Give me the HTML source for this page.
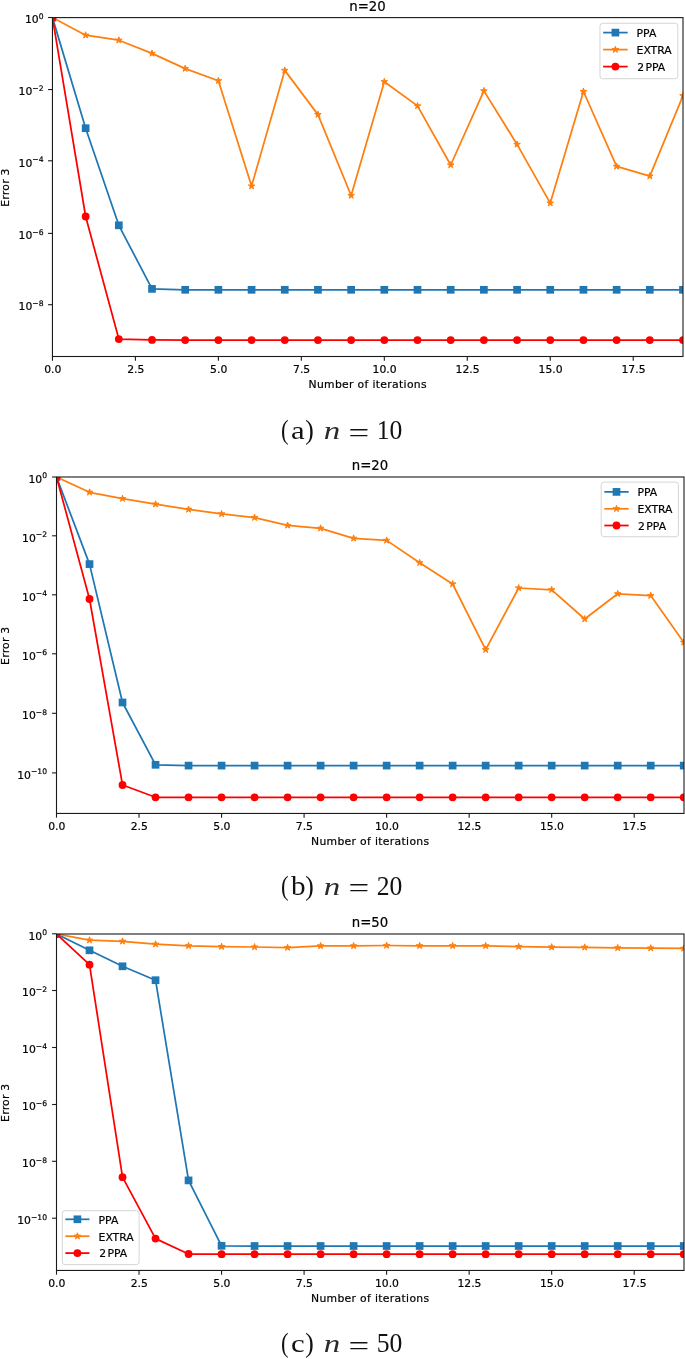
<!DOCTYPE html>
<html lang="en">
<head>
<meta charset="utf-8">
<title>Error 3 versus number of iterations</title>
<style>
html,body{margin:0;padding:0;background:#ffffff;}
body{width:685px;height:1359px;overflow:hidden;}
svg{display:block;}
</style>
</head>
<body>
<svg width="685" height="1359" viewBox="0 0 685 1359" font-family="'DejaVu Sans', 'Liberation Sans', sans-serif" fill="#000">
<style>text{stroke:#000;stroke-width:0.2px;paint-order:stroke fill;} .cap text{stroke:none;}</style>
<rect width="685" height="1359" fill="#ffffff"/>
<g id="chart1">
<clipPath id="clip1"><rect x="52.45" y="17.6" width="630.55" height="338.9"/></clipPath>
<g clip-path="url(#clip1)">
<polyline points="52.45,17.6 85.64,128.2 118.82,225.3 152.01,288.9 185.2,289.8 218.38,289.8 251.57,289.8 284.76,289.8 317.94,289.8 351.13,289.8 384.32,289.8 417.51,289.8 450.69,289.8 483.88,289.8 517.07,289.8 550.25,289.8 583.44,289.8 616.63,289.8 649.81,289.8 683,289.8" fill="none" stroke="#1f77b4" stroke-width="1.75" stroke-linejoin="round" stroke-linecap="square"/>
<rect x="48.6" y="13.75" width="7.7" height="7.7" fill="#1f77b4"/><rect x="81.79" y="124.35" width="7.7" height="7.7" fill="#1f77b4"/><rect x="114.97" y="221.45" width="7.7" height="7.7" fill="#1f77b4"/><rect x="148.16" y="285.05" width="7.7" height="7.7" fill="#1f77b4"/><rect x="181.35" y="285.95" width="7.7" height="7.7" fill="#1f77b4"/><rect x="214.53" y="285.95" width="7.7" height="7.7" fill="#1f77b4"/><rect x="247.72" y="285.95" width="7.7" height="7.7" fill="#1f77b4"/><rect x="280.91" y="285.95" width="7.7" height="7.7" fill="#1f77b4"/><rect x="314.09" y="285.95" width="7.7" height="7.7" fill="#1f77b4"/><rect x="347.28" y="285.95" width="7.7" height="7.7" fill="#1f77b4"/><rect x="380.47" y="285.95" width="7.7" height="7.7" fill="#1f77b4"/><rect x="413.66" y="285.95" width="7.7" height="7.7" fill="#1f77b4"/><rect x="446.84" y="285.95" width="7.7" height="7.7" fill="#1f77b4"/><rect x="480.03" y="285.95" width="7.7" height="7.7" fill="#1f77b4"/><rect x="513.22" y="285.95" width="7.7" height="7.7" fill="#1f77b4"/><rect x="546.4" y="285.95" width="7.7" height="7.7" fill="#1f77b4"/><rect x="579.59" y="285.95" width="7.7" height="7.7" fill="#1f77b4"/><rect x="612.78" y="285.95" width="7.7" height="7.7" fill="#1f77b4"/><rect x="645.96" y="285.95" width="7.7" height="7.7" fill="#1f77b4"/><rect x="679.15" y="285.95" width="7.7" height="7.7" fill="#1f77b4"/>
<polyline points="52.45,17.6 85.64,35.2 118.82,40.2 152.01,53.4 185.2,68.6 218.38,80.7 251.57,186.1 284.76,70.4 317.94,114.6 351.13,195.5 384.32,81.7 417.51,105.9 450.69,165 483.88,90.9 517.07,144.4 550.25,203.1 583.44,91.5 616.63,166.4 649.81,176.1 683,95.7" fill="none" stroke="#ff7f0e" stroke-width="1.75" stroke-linejoin="round" stroke-linecap="square"/>
<polygon points="52.45,14.15 53.22,16.53 55.73,16.53 53.7,18.01 54.48,20.39 52.45,18.92 50.42,20.39 51.2,18.01 49.17,16.53 51.68,16.53" fill="#ff7f0e" stroke="#ff7f0e" stroke-width="1" stroke-linejoin="miter"/><polygon points="85.64,31.75 86.41,34.13 88.92,34.13 86.89,35.61 87.66,37.99 85.64,36.52 83.61,37.99 84.38,35.61 82.36,34.13 84.86,34.13" fill="#ff7f0e" stroke="#ff7f0e" stroke-width="1" stroke-linejoin="miter"/><polygon points="118.82,36.75 119.6,39.13 122.1,39.13 120.08,40.61 120.85,42.99 118.82,41.52 116.8,42.99 117.57,40.61 115.54,39.13 118.05,39.13" fill="#ff7f0e" stroke="#ff7f0e" stroke-width="1" stroke-linejoin="miter"/><polygon points="152.01,49.95 152.79,52.33 155.29,52.33 153.26,53.81 154.04,56.19 152.01,54.72 149.98,56.19 150.76,53.81 148.73,52.33 151.24,52.33" fill="#ff7f0e" stroke="#ff7f0e" stroke-width="1" stroke-linejoin="miter"/><polygon points="185.2,65.15 185.97,67.53 188.48,67.53 186.45,69.01 187.23,71.39 185.2,69.92 183.17,71.39 183.94,69.01 181.92,67.53 184.42,67.53" fill="#ff7f0e" stroke="#ff7f0e" stroke-width="1" stroke-linejoin="miter"/><polygon points="218.38,77.25 219.16,79.63 221.67,79.63 219.64,81.11 220.41,83.49 218.38,82.02 216.36,83.49 217.13,81.11 215.1,79.63 217.61,79.63" fill="#ff7f0e" stroke="#ff7f0e" stroke-width="1" stroke-linejoin="miter"/><polygon points="251.57,182.65 252.35,185.03 254.85,185.03 252.82,186.51 253.6,188.89 251.57,187.42 249.54,188.89 250.32,186.51 248.29,185.03 250.8,185.03" fill="#ff7f0e" stroke="#ff7f0e" stroke-width="1" stroke-linejoin="miter"/><polygon points="284.76,66.95 285.53,69.33 288.04,69.33 286.01,70.81 286.79,73.19 284.76,71.72 282.73,73.19 283.5,70.81 281.48,69.33 283.98,69.33" fill="#ff7f0e" stroke="#ff7f0e" stroke-width="1" stroke-linejoin="miter"/><polygon points="317.94,111.15 318.72,113.53 321.23,113.53 319.2,115.01 319.97,117.39 317.94,115.92 315.92,117.39 316.69,115.01 314.66,113.53 317.17,113.53" fill="#ff7f0e" stroke="#ff7f0e" stroke-width="1" stroke-linejoin="miter"/><polygon points="351.13,192.05 351.91,194.43 354.41,194.43 352.38,195.91 353.16,198.29 351.13,196.82 349.1,198.29 349.88,195.91 347.85,194.43 350.36,194.43" fill="#ff7f0e" stroke="#ff7f0e" stroke-width="1" stroke-linejoin="miter"/><polygon points="384.32,78.25 385.09,80.63 387.6,80.63 385.57,82.11 386.35,84.49 384.32,83.02 382.29,84.49 383.07,82.11 381.04,80.63 383.54,80.63" fill="#ff7f0e" stroke="#ff7f0e" stroke-width="1" stroke-linejoin="miter"/><polygon points="417.51,102.45 418.28,104.83 420.79,104.83 418.76,106.31 419.53,108.69 417.51,107.22 415.48,108.69 416.25,106.31 414.22,104.83 416.73,104.83" fill="#ff7f0e" stroke="#ff7f0e" stroke-width="1" stroke-linejoin="miter"/><polygon points="450.69,161.55 451.47,163.93 453.97,163.93 451.95,165.41 452.72,167.79 450.69,166.32 448.66,167.79 449.44,165.41 447.41,163.93 449.92,163.93" fill="#ff7f0e" stroke="#ff7f0e" stroke-width="1" stroke-linejoin="miter"/><polygon points="483.88,87.45 484.65,89.83 487.16,89.83 485.13,91.31 485.91,93.69 483.88,92.22 481.85,93.69 482.63,91.31 480.6,89.83 483.1,89.83" fill="#ff7f0e" stroke="#ff7f0e" stroke-width="1" stroke-linejoin="miter"/><polygon points="517.07,140.95 517.84,143.33 520.35,143.33 518.32,144.81 519.09,147.19 517.07,145.72 515.04,147.19 515.81,144.81 513.78,143.33 516.29,143.33" fill="#ff7f0e" stroke="#ff7f0e" stroke-width="1" stroke-linejoin="miter"/><polygon points="550.25,199.65 551.03,202.03 553.53,202.03 551.51,203.51 552.28,205.89 550.25,204.42 548.22,205.89 549,203.51 546.97,202.03 549.48,202.03" fill="#ff7f0e" stroke="#ff7f0e" stroke-width="1" stroke-linejoin="miter"/><polygon points="583.44,88.05 584.21,90.43 586.72,90.43 584.69,91.91 585.47,94.29 583.44,92.82 581.41,94.29 582.19,91.91 580.16,90.43 582.66,90.43" fill="#ff7f0e" stroke="#ff7f0e" stroke-width="1" stroke-linejoin="miter"/><polygon points="616.63,162.95 617.4,165.33 619.91,165.33 617.88,166.81 618.65,169.19 616.63,167.72 614.6,169.19 615.37,166.81 613.35,165.33 615.85,165.33" fill="#ff7f0e" stroke="#ff7f0e" stroke-width="1" stroke-linejoin="miter"/><polygon points="649.81,172.65 650.59,175.03 653.09,175.03 651.07,176.51 651.84,178.89 649.81,177.42 647.79,178.89 648.56,176.51 646.53,175.03 649.04,175.03" fill="#ff7f0e" stroke="#ff7f0e" stroke-width="1" stroke-linejoin="miter"/><polygon points="683,92.25 683.77,94.63 686.28,94.63 684.25,96.11 685.03,98.49 683,97.02 680.97,98.49 681.75,96.11 679.72,94.63 682.23,94.63" fill="#ff7f0e" stroke="#ff7f0e" stroke-width="1" stroke-linejoin="miter"/>
<polyline points="52.45,17.6 85.64,216.5 118.82,339.1 152.01,339.9 185.2,340.1 218.38,340.1 251.57,340.1 284.76,340.1 317.94,340.1 351.13,340.1 384.32,340.1 417.51,340.1 450.69,340.1 483.88,340.1 517.07,340.1 550.25,340.1 583.44,340.1 616.63,340.1 649.81,340.1 683,340.1" fill="none" stroke="#ff0000" stroke-width="1.75" stroke-linejoin="round" stroke-linecap="square"/>
<circle cx="52.45" cy="17.6" r="3.9" fill="#ff0000"/><circle cx="85.64" cy="216.5" r="3.9" fill="#ff0000"/><circle cx="118.82" cy="339.1" r="3.9" fill="#ff0000"/><circle cx="152.01" cy="339.9" r="3.9" fill="#ff0000"/><circle cx="185.2" cy="340.1" r="3.9" fill="#ff0000"/><circle cx="218.38" cy="340.1" r="3.9" fill="#ff0000"/><circle cx="251.57" cy="340.1" r="3.9" fill="#ff0000"/><circle cx="284.76" cy="340.1" r="3.9" fill="#ff0000"/><circle cx="317.94" cy="340.1" r="3.9" fill="#ff0000"/><circle cx="351.13" cy="340.1" r="3.9" fill="#ff0000"/><circle cx="384.32" cy="340.1" r="3.9" fill="#ff0000"/><circle cx="417.51" cy="340.1" r="3.9" fill="#ff0000"/><circle cx="450.69" cy="340.1" r="3.9" fill="#ff0000"/><circle cx="483.88" cy="340.1" r="3.9" fill="#ff0000"/><circle cx="517.07" cy="340.1" r="3.9" fill="#ff0000"/><circle cx="550.25" cy="340.1" r="3.9" fill="#ff0000"/><circle cx="583.44" cy="340.1" r="3.9" fill="#ff0000"/><circle cx="616.63" cy="340.1" r="3.9" fill="#ff0000"/><circle cx="649.81" cy="340.1" r="3.9" fill="#ff0000"/><circle cx="683" cy="340.1" r="3.9" fill="#ff0000"/>
</g>
<rect x="52.45" y="17.6" width="630.55" height="338.9" fill="none" stroke="#1a1a1a" stroke-width="1.1"/>
<g stroke="#1a1a1a" stroke-width="1.1"><line x1="52.45" y1="356.5" x2="52.45" y2="360.7"/><line x1="135.42" y1="356.5" x2="135.42" y2="360.7"/><line x1="218.38" y1="356.5" x2="218.38" y2="360.7"/><line x1="301.35" y1="356.5" x2="301.35" y2="360.7"/><line x1="384.32" y1="356.5" x2="384.32" y2="360.7"/><line x1="467.29" y1="356.5" x2="467.29" y2="360.7"/><line x1="550.25" y1="356.5" x2="550.25" y2="360.7"/><line x1="633.22" y1="356.5" x2="633.22" y2="360.7"/></g>
<g font-size="10.8" text-anchor="middle"><text x="52.75" y="373.2">0.0</text><text x="135.72" y="373.2">2.5</text><text x="218.68" y="373.2">5.0</text><text x="301.65" y="373.2">7.5</text><text x="384.62" y="373.2">10.0</text><text x="467.59" y="373.2">12.5</text><text x="550.55" y="373.2">15.0</text><text x="633.52" y="373.2">17.5</text></g>
<g stroke="#1a1a1a" stroke-width="1.1"><line x1="48.05" y1="17.5" x2="52.45" y2="17.5"/><line x1="48.05" y1="89.55" x2="52.45" y2="89.55"/><line x1="48.05" y1="160.8" x2="52.45" y2="160.8"/><line x1="48.05" y1="233.4" x2="52.45" y2="233.4"/><line x1="48.05" y1="304.7" x2="52.45" y2="304.7"/></g>
<g font-size="10.8"><text x="43.55" y="23.2" text-anchor="end">10<tspan font-size="7.6" dy="-4.3">0</tspan></text><text x="43.55" y="95.25" text-anchor="end">10<tspan font-size="7.6" dy="-4.3">−2</tspan></text><text x="43.55" y="166.5" text-anchor="end">10<tspan font-size="7.6" dy="-4.3">−4</tspan></text><text x="43.55" y="239.1" text-anchor="end">10<tspan font-size="7.6" dy="-4.3">−6</tspan></text><text x="43.55" y="310.4" text-anchor="end">10<tspan font-size="7.6" dy="-4.3">−8</tspan></text></g>
<text x="367.73" y="388.2" font-size="10.8" text-anchor="middle" letter-spacing="0.33">Number of iterations</text>
<text transform="translate(9,187.55) rotate(-90)" font-size="10.8" text-anchor="middle" letter-spacing="0.25">Error 3</text>
<text x="367.53" y="10.7" font-size="13.3" text-anchor="middle">n=20</text>
<rect x="600" y="23.3" width="77.8" height="55.4" rx="2.6" ry="2.6" fill="#ffffff" fill-opacity="0.8" stroke="#cccccc" stroke-opacity="0.8" stroke-width="1"/>
<line x1="604" y1="32.6" x2="626.8" y2="32.6" stroke="#1f77b4" stroke-width="1.75" stroke-linecap="square"/>
<rect x="611.55" y="28.75" width="7.7" height="7.7" fill="#1f77b4"/>
<text x="636.6" y="36.9" font-size="10.8">PPA</text>
<line x1="604" y1="49.6" x2="626.8" y2="49.6" stroke="#ff7f0e" stroke-width="1.75" stroke-linecap="square"/>
<polygon points="615.4,46.15 616.17,48.53 618.68,48.53 616.65,50.01 617.43,52.39 615.4,50.92 613.37,52.39 614.15,50.01 612.12,48.53 614.63,48.53" fill="#ff7f0e" stroke="#ff7f0e" stroke-width="1" stroke-linejoin="miter"/>
<text x="636.6" y="53.9" font-size="10.8">EXTRA</text>
<line x1="604" y1="66.6" x2="626.8" y2="66.6" stroke="#ff0000" stroke-width="1.75" stroke-linecap="square"/>
<circle cx="615.4" cy="66.6" r="3.9" fill="#ff0000"/>
<text x="637.3" y="70.9" font-size="10.8" word-spacing="-2.1">2 PPA</text>
<g class="cap" font-family="'Liberation Serif', 'DejaVu Serif', serif" font-size="27" fill="#111">
<text transform="translate(281,439.2) scale(0.84,1.05)">(</text>
<text transform="translate(291,439.2) scale(1.14,0.92)">a</text>
<text transform="translate(305.3,439.2) scale(0.95,1.05)">)</text>
<text transform="translate(323.8,439.2) scale(1.22,0.9)" font-style="italic" fill="#2a2a2a">n</text>
<text transform="translate(348.4,441.6) scale(1.36,1.0)">=</text>
<text transform="translate(376.8,439.2) scale(0.95,1.0)">10</text>
</g>
</g>
<g id="chart2">
<clipPath id="clip2"><rect x="56.5" y="477" width="627.5" height="336.45"/></clipPath>
<g clip-path="url(#clip2)">
<polyline points="56.5,477 89.51,564.1 122.52,702.5 155.54,764.8 188.55,765.6 221.56,765.6 254.57,765.6 287.58,765.6 320.6,765.6 353.61,765.6 386.62,765.6 419.63,765.6 452.64,765.6 485.66,765.6 518.67,765.6 551.68,765.6 584.69,765.6 617.7,765.6 650.72,765.6 683.73,765.6" fill="none" stroke="#1f77b4" stroke-width="1.75" stroke-linejoin="round" stroke-linecap="square"/>
<rect x="52.65" y="473.15" width="7.7" height="7.7" fill="#1f77b4"/><rect x="85.66" y="560.25" width="7.7" height="7.7" fill="#1f77b4"/><rect x="118.67" y="698.65" width="7.7" height="7.7" fill="#1f77b4"/><rect x="151.69" y="760.95" width="7.7" height="7.7" fill="#1f77b4"/><rect x="184.7" y="761.75" width="7.7" height="7.7" fill="#1f77b4"/><rect x="217.71" y="761.75" width="7.7" height="7.7" fill="#1f77b4"/><rect x="250.72" y="761.75" width="7.7" height="7.7" fill="#1f77b4"/><rect x="283.73" y="761.75" width="7.7" height="7.7" fill="#1f77b4"/><rect x="316.75" y="761.75" width="7.7" height="7.7" fill="#1f77b4"/><rect x="349.76" y="761.75" width="7.7" height="7.7" fill="#1f77b4"/><rect x="382.77" y="761.75" width="7.7" height="7.7" fill="#1f77b4"/><rect x="415.78" y="761.75" width="7.7" height="7.7" fill="#1f77b4"/><rect x="448.79" y="761.75" width="7.7" height="7.7" fill="#1f77b4"/><rect x="481.81" y="761.75" width="7.7" height="7.7" fill="#1f77b4"/><rect x="514.82" y="761.75" width="7.7" height="7.7" fill="#1f77b4"/><rect x="547.83" y="761.75" width="7.7" height="7.7" fill="#1f77b4"/><rect x="580.84" y="761.75" width="7.7" height="7.7" fill="#1f77b4"/><rect x="613.85" y="761.75" width="7.7" height="7.7" fill="#1f77b4"/><rect x="646.87" y="761.75" width="7.7" height="7.7" fill="#1f77b4"/><rect x="679.88" y="761.75" width="7.7" height="7.7" fill="#1f77b4"/>
<polyline points="56.5,477 89.51,492.3 122.52,498.6 155.54,504.2 188.55,509.4 221.56,513.9 254.57,517.6 287.58,525.4 320.6,528.3 353.61,538.3 386.62,540.4 419.63,562.8 452.64,584 485.66,649.7 518.67,588 551.68,589.8 584.69,619 617.7,593.8 650.72,595.6 683.73,642.4" fill="none" stroke="#ff7f0e" stroke-width="1.75" stroke-linejoin="round" stroke-linecap="square"/>
<polygon points="56.5,473.55 57.27,475.93 59.78,475.93 57.75,477.41 58.53,479.79 56.5,478.32 54.47,479.79 55.25,477.41 53.22,475.93 55.73,475.93" fill="#ff7f0e" stroke="#ff7f0e" stroke-width="1" stroke-linejoin="miter"/><polygon points="89.51,488.85 90.29,491.23 92.79,491.23 90.77,492.71 91.54,495.09 89.51,493.62 87.48,495.09 88.26,492.71 86.23,491.23 88.74,491.23" fill="#ff7f0e" stroke="#ff7f0e" stroke-width="1" stroke-linejoin="miter"/><polygon points="122.52,495.15 123.3,497.53 125.81,497.53 123.78,499.01 124.55,501.39 122.52,499.92 120.5,501.39 121.27,499.01 119.24,497.53 121.75,497.53" fill="#ff7f0e" stroke="#ff7f0e" stroke-width="1" stroke-linejoin="miter"/><polygon points="155.54,500.75 156.31,503.13 158.82,503.13 156.79,504.61 157.56,506.99 155.54,505.52 153.51,506.99 154.28,504.61 152.25,503.13 154.76,503.13" fill="#ff7f0e" stroke="#ff7f0e" stroke-width="1" stroke-linejoin="miter"/><polygon points="188.55,505.95 189.32,508.33 191.83,508.33 189.8,509.81 190.58,512.19 188.55,510.72 186.52,512.19 187.29,509.81 185.27,508.33 187.77,508.33" fill="#ff7f0e" stroke="#ff7f0e" stroke-width="1" stroke-linejoin="miter"/><polygon points="221.56,510.45 222.33,512.83 224.84,512.83 222.81,514.31 223.59,516.69 221.56,515.22 219.53,516.69 220.31,514.31 218.28,512.83 220.79,512.83" fill="#ff7f0e" stroke="#ff7f0e" stroke-width="1" stroke-linejoin="miter"/><polygon points="254.57,514.15 255.35,516.53 257.85,516.53 255.83,518.01 256.6,520.39 254.57,518.92 252.54,520.39 253.32,518.01 251.29,516.53 253.8,516.53" fill="#ff7f0e" stroke="#ff7f0e" stroke-width="1" stroke-linejoin="miter"/><polygon points="287.58,521.95 288.36,524.33 290.87,524.33 288.84,525.81 289.61,528.19 287.58,526.72 285.56,528.19 286.33,525.81 284.3,524.33 286.81,524.33" fill="#ff7f0e" stroke="#ff7f0e" stroke-width="1" stroke-linejoin="miter"/><polygon points="320.6,524.85 321.37,527.23 323.88,527.23 321.85,528.71 322.62,531.09 320.6,529.62 318.57,531.09 319.34,528.71 317.31,527.23 319.82,527.23" fill="#ff7f0e" stroke="#ff7f0e" stroke-width="1" stroke-linejoin="miter"/><polygon points="353.61,534.85 354.38,537.23 356.89,537.23 354.86,538.71 355.64,541.09 353.61,539.62 351.58,541.09 352.35,538.71 350.33,537.23 352.83,537.23" fill="#ff7f0e" stroke="#ff7f0e" stroke-width="1" stroke-linejoin="miter"/><polygon points="386.62,536.95 387.39,539.33 389.9,539.33 387.87,540.81 388.65,543.19 386.62,541.72 384.59,543.19 385.37,540.81 383.34,539.33 385.85,539.33" fill="#ff7f0e" stroke="#ff7f0e" stroke-width="1" stroke-linejoin="miter"/><polygon points="419.63,559.35 420.41,561.73 422.91,561.73 420.89,563.21 421.66,565.59 419.63,564.12 417.6,565.59 418.38,563.21 416.35,561.73 418.86,561.73" fill="#ff7f0e" stroke="#ff7f0e" stroke-width="1" stroke-linejoin="miter"/><polygon points="452.64,580.55 453.42,582.93 455.93,582.93 453.9,584.41 454.67,586.79 452.64,585.32 450.62,586.79 451.39,584.41 449.36,582.93 451.87,582.93" fill="#ff7f0e" stroke="#ff7f0e" stroke-width="1" stroke-linejoin="miter"/><polygon points="485.66,646.25 486.43,648.63 488.94,648.63 486.91,650.11 487.68,652.49 485.66,651.02 483.63,652.49 484.4,650.11 482.37,648.63 484.88,648.63" fill="#ff7f0e" stroke="#ff7f0e" stroke-width="1" stroke-linejoin="miter"/><polygon points="518.67,584.55 519.44,586.93 521.95,586.93 519.92,588.41 520.7,590.79 518.67,589.32 516.64,590.79 517.41,588.41 515.39,586.93 517.89,586.93" fill="#ff7f0e" stroke="#ff7f0e" stroke-width="1" stroke-linejoin="miter"/><polygon points="551.68,586.35 552.45,588.73 554.96,588.73 552.93,590.21 553.71,592.59 551.68,591.12 549.65,592.59 550.43,590.21 548.4,588.73 550.91,588.73" fill="#ff7f0e" stroke="#ff7f0e" stroke-width="1" stroke-linejoin="miter"/><polygon points="584.69,615.55 585.47,617.93 587.97,617.93 585.95,619.41 586.72,621.79 584.69,620.32 582.66,621.79 583.44,619.41 581.41,617.93 583.92,617.93" fill="#ff7f0e" stroke="#ff7f0e" stroke-width="1" stroke-linejoin="miter"/><polygon points="617.7,590.35 618.48,592.73 620.99,592.73 618.96,594.21 619.73,596.59 617.7,595.12 615.68,596.59 616.45,594.21 614.42,592.73 616.93,592.73" fill="#ff7f0e" stroke="#ff7f0e" stroke-width="1" stroke-linejoin="miter"/><polygon points="650.72,592.15 651.49,594.53 654,594.53 651.97,596.01 652.74,598.39 650.72,596.92 648.69,598.39 649.46,596.01 647.43,594.53 649.94,594.53" fill="#ff7f0e" stroke="#ff7f0e" stroke-width="1" stroke-linejoin="miter"/><polygon points="683.73,638.95 684.5,641.33 687.01,641.33 684.98,642.81 685.76,645.19 683.73,643.72 681.7,645.19 682.47,642.81 680.45,641.33 682.95,641.33" fill="#ff7f0e" stroke="#ff7f0e" stroke-width="1" stroke-linejoin="miter"/>
<polyline points="56.5,477 89.51,599 122.52,785 155.54,797.3 188.55,797.3 221.56,797.3 254.57,797.3 287.58,797.3 320.6,797.3 353.61,797.3 386.62,797.3 419.63,797.3 452.64,797.3 485.66,797.3 518.67,797.3 551.68,797.3 584.69,797.3 617.7,797.3 650.72,797.3 683.73,797.3" fill="none" stroke="#ff0000" stroke-width="1.75" stroke-linejoin="round" stroke-linecap="square"/>
<circle cx="56.5" cy="477" r="3.9" fill="#ff0000"/><circle cx="89.51" cy="599" r="3.9" fill="#ff0000"/><circle cx="122.52" cy="785" r="3.9" fill="#ff0000"/><circle cx="155.54" cy="797.3" r="3.9" fill="#ff0000"/><circle cx="188.55" cy="797.3" r="3.9" fill="#ff0000"/><circle cx="221.56" cy="797.3" r="3.9" fill="#ff0000"/><circle cx="254.57" cy="797.3" r="3.9" fill="#ff0000"/><circle cx="287.58" cy="797.3" r="3.9" fill="#ff0000"/><circle cx="320.6" cy="797.3" r="3.9" fill="#ff0000"/><circle cx="353.61" cy="797.3" r="3.9" fill="#ff0000"/><circle cx="386.62" cy="797.3" r="3.9" fill="#ff0000"/><circle cx="419.63" cy="797.3" r="3.9" fill="#ff0000"/><circle cx="452.64" cy="797.3" r="3.9" fill="#ff0000"/><circle cx="485.66" cy="797.3" r="3.9" fill="#ff0000"/><circle cx="518.67" cy="797.3" r="3.9" fill="#ff0000"/><circle cx="551.68" cy="797.3" r="3.9" fill="#ff0000"/><circle cx="584.69" cy="797.3" r="3.9" fill="#ff0000"/><circle cx="617.7" cy="797.3" r="3.9" fill="#ff0000"/><circle cx="650.72" cy="797.3" r="3.9" fill="#ff0000"/><circle cx="683.73" cy="797.3" r="3.9" fill="#ff0000"/>
</g>
<rect x="56.5" y="477" width="627.5" height="336.45" fill="none" stroke="#1a1a1a" stroke-width="1.1"/>
<g stroke="#1a1a1a" stroke-width="1.1"><line x1="56.5" y1="813.45" x2="56.5" y2="817.65"/><line x1="139.03" y1="813.45" x2="139.03" y2="817.65"/><line x1="221.56" y1="813.45" x2="221.56" y2="817.65"/><line x1="304.09" y1="813.45" x2="304.09" y2="817.65"/><line x1="386.62" y1="813.45" x2="386.62" y2="817.65"/><line x1="469.15" y1="813.45" x2="469.15" y2="817.65"/><line x1="551.68" y1="813.45" x2="551.68" y2="817.65"/><line x1="634.21" y1="813.45" x2="634.21" y2="817.65"/></g>
<g font-size="10.8" text-anchor="middle"><text x="56.8" y="830.15">0.0</text><text x="139.33" y="830.15">2.5</text><text x="221.86" y="830.15">5.0</text><text x="304.39" y="830.15">7.5</text><text x="386.92" y="830.15">10.0</text><text x="469.45" y="830.15">12.5</text><text x="551.98" y="830.15">15.0</text><text x="634.51" y="830.15">17.5</text></g>
<g stroke="#1a1a1a" stroke-width="1.1"><line x1="52.1" y1="477" x2="56.5" y2="477"/><line x1="52.1" y1="535.8" x2="56.5" y2="535.8"/><line x1="52.1" y1="594.8" x2="56.5" y2="594.8"/><line x1="52.1" y1="653.8" x2="56.5" y2="653.8"/><line x1="52.1" y1="713.3" x2="56.5" y2="713.3"/><line x1="52.1" y1="772.9" x2="56.5" y2="772.9"/></g>
<g font-size="10.8"><text x="47" y="482.7" text-anchor="end">10<tspan font-size="7.6" dy="-4.3">0</tspan></text><text x="47" y="541.5" text-anchor="end">10<tspan font-size="7.6" dy="-4.3">−2</tspan></text><text x="47" y="600.5" text-anchor="end">10<tspan font-size="7.6" dy="-4.3">−4</tspan></text><text x="47" y="659.5" text-anchor="end">10<tspan font-size="7.6" dy="-4.3">−6</tspan></text><text x="47" y="719" text-anchor="end">10<tspan font-size="7.6" dy="-4.3">−8</tspan></text><text x="47" y="778.6" text-anchor="end">10<tspan font-size="7.6" dy="-4.3">−10</tspan></text></g>
<text x="370.25" y="845.15" font-size="10.8" text-anchor="middle" letter-spacing="0.33">Number of iterations</text>
<text transform="translate(9,645.73) rotate(-90)" font-size="10.8" text-anchor="middle" letter-spacing="0.25">Error 3</text>
<text x="370.05" y="470.1" font-size="13.3" text-anchor="middle">n=20</text>
<rect x="601.2" y="482.1" width="77.2" height="54.6" rx="2.6" ry="2.6" fill="#ffffff" fill-opacity="0.8" stroke="#cccccc" stroke-opacity="0.8" stroke-width="1"/>
<line x1="605.2" y1="491.9" x2="627.8" y2="491.9" stroke="#1f77b4" stroke-width="1.75" stroke-linecap="square"/>
<rect x="612.65" y="488.05" width="7.7" height="7.7" fill="#1f77b4"/>
<text x="637.4" y="496.2" font-size="10.8">PPA</text>
<line x1="605.2" y1="508.8" x2="627.8" y2="508.8" stroke="#ff7f0e" stroke-width="1.75" stroke-linecap="square"/>
<polygon points="616.5,505.35 617.27,507.73 619.78,507.73 617.75,509.21 618.53,511.59 616.5,510.12 614.47,511.59 615.25,509.21 613.22,507.73 615.73,507.73" fill="#ff7f0e" stroke="#ff7f0e" stroke-width="1" stroke-linejoin="miter"/>
<text x="637.4" y="513.1" font-size="10.8">EXTRA</text>
<line x1="605.2" y1="525.5" x2="627.8" y2="525.5" stroke="#ff0000" stroke-width="1.75" stroke-linecap="square"/>
<circle cx="616.5" cy="525.5" r="3.9" fill="#ff0000"/>
<text x="638.1" y="529.8" font-size="10.8" word-spacing="-2.1">2 PPA</text>
<g class="cap" font-family="'Liberation Serif', 'DejaVu Serif', serif" font-size="27" fill="#111">
<text transform="translate(281,894.7) scale(0.84,1.05)">(</text>
<text transform="translate(291,894.7) scale(1.08,1.0)">b</text>
<text transform="translate(305.3,894.7) scale(0.95,1.05)">)</text>
<text transform="translate(323.8,894.7) scale(1.22,0.9)" font-style="italic" fill="#2a2a2a">n</text>
<text transform="translate(348.4,897.1) scale(1.36,1.0)">=</text>
<text transform="translate(376.8,894.7) scale(0.95,1.0)">20</text>
</g>
</g>
<g id="chart3">
<clipPath id="clip3"><rect x="56.5" y="934" width="627.5" height="336.45"/></clipPath>
<g clip-path="url(#clip3)">
<polyline points="56.5,934 89.51,950.3 122.52,966.3 155.54,980.2 188.55,1180.4 221.56,1245.8 254.57,1246 287.58,1246 320.6,1246 353.61,1246 386.62,1246 419.63,1246 452.64,1246 485.66,1246 518.67,1246 551.68,1246 584.69,1246 617.7,1246 650.72,1246 683.73,1246" fill="none" stroke="#1f77b4" stroke-width="1.75" stroke-linejoin="round" stroke-linecap="square"/>
<rect x="52.65" y="930.15" width="7.7" height="7.7" fill="#1f77b4"/><rect x="85.66" y="946.45" width="7.7" height="7.7" fill="#1f77b4"/><rect x="118.67" y="962.45" width="7.7" height="7.7" fill="#1f77b4"/><rect x="151.69" y="976.35" width="7.7" height="7.7" fill="#1f77b4"/><rect x="184.7" y="1176.55" width="7.7" height="7.7" fill="#1f77b4"/><rect x="217.71" y="1241.95" width="7.7" height="7.7" fill="#1f77b4"/><rect x="250.72" y="1242.15" width="7.7" height="7.7" fill="#1f77b4"/><rect x="283.73" y="1242.15" width="7.7" height="7.7" fill="#1f77b4"/><rect x="316.75" y="1242.15" width="7.7" height="7.7" fill="#1f77b4"/><rect x="349.76" y="1242.15" width="7.7" height="7.7" fill="#1f77b4"/><rect x="382.77" y="1242.15" width="7.7" height="7.7" fill="#1f77b4"/><rect x="415.78" y="1242.15" width="7.7" height="7.7" fill="#1f77b4"/><rect x="448.79" y="1242.15" width="7.7" height="7.7" fill="#1f77b4"/><rect x="481.81" y="1242.15" width="7.7" height="7.7" fill="#1f77b4"/><rect x="514.82" y="1242.15" width="7.7" height="7.7" fill="#1f77b4"/><rect x="547.83" y="1242.15" width="7.7" height="7.7" fill="#1f77b4"/><rect x="580.84" y="1242.15" width="7.7" height="7.7" fill="#1f77b4"/><rect x="613.85" y="1242.15" width="7.7" height="7.7" fill="#1f77b4"/><rect x="646.87" y="1242.15" width="7.7" height="7.7" fill="#1f77b4"/><rect x="679.88" y="1242.15" width="7.7" height="7.7" fill="#1f77b4"/>
<polyline points="56.5,934 89.51,940.2 122.52,941.3 155.54,944.2 188.55,945.8 221.56,946.6 254.57,947 287.58,947.6 320.6,945.9 353.61,945.9 386.62,945.5 419.63,945.8 452.64,945.8 485.66,945.8 518.67,946.6 551.68,947.1 584.69,947.3 617.7,947.9 650.72,948.1 683.73,948.4" fill="none" stroke="#ff7f0e" stroke-width="1.75" stroke-linejoin="round" stroke-linecap="square"/>
<polygon points="56.5,930.55 57.27,932.93 59.78,932.93 57.75,934.41 58.53,936.79 56.5,935.32 54.47,936.79 55.25,934.41 53.22,932.93 55.73,932.93" fill="#ff7f0e" stroke="#ff7f0e" stroke-width="1" stroke-linejoin="miter"/><polygon points="89.51,936.75 90.29,939.13 92.79,939.13 90.77,940.61 91.54,942.99 89.51,941.52 87.48,942.99 88.26,940.61 86.23,939.13 88.74,939.13" fill="#ff7f0e" stroke="#ff7f0e" stroke-width="1" stroke-linejoin="miter"/><polygon points="122.52,937.85 123.3,940.23 125.81,940.23 123.78,941.71 124.55,944.09 122.52,942.62 120.5,944.09 121.27,941.71 119.24,940.23 121.75,940.23" fill="#ff7f0e" stroke="#ff7f0e" stroke-width="1" stroke-linejoin="miter"/><polygon points="155.54,940.75 156.31,943.13 158.82,943.13 156.79,944.61 157.56,946.99 155.54,945.52 153.51,946.99 154.28,944.61 152.25,943.13 154.76,943.13" fill="#ff7f0e" stroke="#ff7f0e" stroke-width="1" stroke-linejoin="miter"/><polygon points="188.55,942.35 189.32,944.73 191.83,944.73 189.8,946.21 190.58,948.59 188.55,947.12 186.52,948.59 187.29,946.21 185.27,944.73 187.77,944.73" fill="#ff7f0e" stroke="#ff7f0e" stroke-width="1" stroke-linejoin="miter"/><polygon points="221.56,943.15 222.33,945.53 224.84,945.53 222.81,947.01 223.59,949.39 221.56,947.92 219.53,949.39 220.31,947.01 218.28,945.53 220.79,945.53" fill="#ff7f0e" stroke="#ff7f0e" stroke-width="1" stroke-linejoin="miter"/><polygon points="254.57,943.55 255.35,945.93 257.85,945.93 255.83,947.41 256.6,949.79 254.57,948.32 252.54,949.79 253.32,947.41 251.29,945.93 253.8,945.93" fill="#ff7f0e" stroke="#ff7f0e" stroke-width="1" stroke-linejoin="miter"/><polygon points="287.58,944.15 288.36,946.53 290.87,946.53 288.84,948.01 289.61,950.39 287.58,948.92 285.56,950.39 286.33,948.01 284.3,946.53 286.81,946.53" fill="#ff7f0e" stroke="#ff7f0e" stroke-width="1" stroke-linejoin="miter"/><polygon points="320.6,942.45 321.37,944.83 323.88,944.83 321.85,946.31 322.62,948.69 320.6,947.22 318.57,948.69 319.34,946.31 317.31,944.83 319.82,944.83" fill="#ff7f0e" stroke="#ff7f0e" stroke-width="1" stroke-linejoin="miter"/><polygon points="353.61,942.45 354.38,944.83 356.89,944.83 354.86,946.31 355.64,948.69 353.61,947.22 351.58,948.69 352.35,946.31 350.33,944.83 352.83,944.83" fill="#ff7f0e" stroke="#ff7f0e" stroke-width="1" stroke-linejoin="miter"/><polygon points="386.62,942.05 387.39,944.43 389.9,944.43 387.87,945.91 388.65,948.29 386.62,946.82 384.59,948.29 385.37,945.91 383.34,944.43 385.85,944.43" fill="#ff7f0e" stroke="#ff7f0e" stroke-width="1" stroke-linejoin="miter"/><polygon points="419.63,942.35 420.41,944.73 422.91,944.73 420.89,946.21 421.66,948.59 419.63,947.12 417.6,948.59 418.38,946.21 416.35,944.73 418.86,944.73" fill="#ff7f0e" stroke="#ff7f0e" stroke-width="1" stroke-linejoin="miter"/><polygon points="452.64,942.35 453.42,944.73 455.93,944.73 453.9,946.21 454.67,948.59 452.64,947.12 450.62,948.59 451.39,946.21 449.36,944.73 451.87,944.73" fill="#ff7f0e" stroke="#ff7f0e" stroke-width="1" stroke-linejoin="miter"/><polygon points="485.66,942.35 486.43,944.73 488.94,944.73 486.91,946.21 487.68,948.59 485.66,947.12 483.63,948.59 484.4,946.21 482.37,944.73 484.88,944.73" fill="#ff7f0e" stroke="#ff7f0e" stroke-width="1" stroke-linejoin="miter"/><polygon points="518.67,943.15 519.44,945.53 521.95,945.53 519.92,947.01 520.7,949.39 518.67,947.92 516.64,949.39 517.41,947.01 515.39,945.53 517.89,945.53" fill="#ff7f0e" stroke="#ff7f0e" stroke-width="1" stroke-linejoin="miter"/><polygon points="551.68,943.65 552.45,946.03 554.96,946.03 552.93,947.51 553.71,949.89 551.68,948.42 549.65,949.89 550.43,947.51 548.4,946.03 550.91,946.03" fill="#ff7f0e" stroke="#ff7f0e" stroke-width="1" stroke-linejoin="miter"/><polygon points="584.69,943.85 585.47,946.23 587.97,946.23 585.95,947.71 586.72,950.09 584.69,948.62 582.66,950.09 583.44,947.71 581.41,946.23 583.92,946.23" fill="#ff7f0e" stroke="#ff7f0e" stroke-width="1" stroke-linejoin="miter"/><polygon points="617.7,944.45 618.48,946.83 620.99,946.83 618.96,948.31 619.73,950.69 617.7,949.22 615.68,950.69 616.45,948.31 614.42,946.83 616.93,946.83" fill="#ff7f0e" stroke="#ff7f0e" stroke-width="1" stroke-linejoin="miter"/><polygon points="650.72,944.65 651.49,947.03 654,947.03 651.97,948.51 652.74,950.89 650.72,949.42 648.69,950.89 649.46,948.51 647.43,947.03 649.94,947.03" fill="#ff7f0e" stroke="#ff7f0e" stroke-width="1" stroke-linejoin="miter"/><polygon points="683.73,944.95 684.5,947.33 687.01,947.33 684.98,948.81 685.76,951.19 683.73,949.72 681.7,951.19 682.47,948.81 680.45,947.33 682.95,947.33" fill="#ff7f0e" stroke="#ff7f0e" stroke-width="1" stroke-linejoin="miter"/>
<polyline points="56.5,934 89.51,964.7 122.52,1177.2 155.54,1238.6 188.55,1254 221.56,1254.2 254.57,1254.2 287.58,1254.2 320.6,1254.2 353.61,1254.2 386.62,1254.2 419.63,1254.2 452.64,1254.2 485.66,1254.2 518.67,1254.2 551.68,1254.2 584.69,1254.2 617.7,1254.2 650.72,1254.2 683.73,1254.2" fill="none" stroke="#ff0000" stroke-width="1.75" stroke-linejoin="round" stroke-linecap="square"/>
<circle cx="56.5" cy="934" r="3.9" fill="#ff0000"/><circle cx="89.51" cy="964.7" r="3.9" fill="#ff0000"/><circle cx="122.52" cy="1177.2" r="3.9" fill="#ff0000"/><circle cx="155.54" cy="1238.6" r="3.9" fill="#ff0000"/><circle cx="188.55" cy="1254" r="3.9" fill="#ff0000"/><circle cx="221.56" cy="1254.2" r="3.9" fill="#ff0000"/><circle cx="254.57" cy="1254.2" r="3.9" fill="#ff0000"/><circle cx="287.58" cy="1254.2" r="3.9" fill="#ff0000"/><circle cx="320.6" cy="1254.2" r="3.9" fill="#ff0000"/><circle cx="353.61" cy="1254.2" r="3.9" fill="#ff0000"/><circle cx="386.62" cy="1254.2" r="3.9" fill="#ff0000"/><circle cx="419.63" cy="1254.2" r="3.9" fill="#ff0000"/><circle cx="452.64" cy="1254.2" r="3.9" fill="#ff0000"/><circle cx="485.66" cy="1254.2" r="3.9" fill="#ff0000"/><circle cx="518.67" cy="1254.2" r="3.9" fill="#ff0000"/><circle cx="551.68" cy="1254.2" r="3.9" fill="#ff0000"/><circle cx="584.69" cy="1254.2" r="3.9" fill="#ff0000"/><circle cx="617.7" cy="1254.2" r="3.9" fill="#ff0000"/><circle cx="650.72" cy="1254.2" r="3.9" fill="#ff0000"/><circle cx="683.73" cy="1254.2" r="3.9" fill="#ff0000"/>
</g>
<rect x="56.5" y="934" width="627.5" height="336.45" fill="none" stroke="#1a1a1a" stroke-width="1.1"/>
<g stroke="#1a1a1a" stroke-width="1.1"><line x1="56.5" y1="1270.45" x2="56.5" y2="1274.65"/><line x1="139.03" y1="1270.45" x2="139.03" y2="1274.65"/><line x1="221.56" y1="1270.45" x2="221.56" y2="1274.65"/><line x1="304.09" y1="1270.45" x2="304.09" y2="1274.65"/><line x1="386.62" y1="1270.45" x2="386.62" y2="1274.65"/><line x1="469.15" y1="1270.45" x2="469.15" y2="1274.65"/><line x1="551.68" y1="1270.45" x2="551.68" y2="1274.65"/><line x1="634.21" y1="1270.45" x2="634.21" y2="1274.65"/></g>
<g font-size="10.8" text-anchor="middle"><text x="56.8" y="1287.15">0.0</text><text x="139.33" y="1287.15">2.5</text><text x="221.86" y="1287.15">5.0</text><text x="304.39" y="1287.15">7.5</text><text x="386.92" y="1287.15">10.0</text><text x="469.45" y="1287.15">12.5</text><text x="551.98" y="1287.15">15.0</text><text x="634.51" y="1287.15">17.5</text></g>
<g stroke="#1a1a1a" stroke-width="1.1"><line x1="52.1" y1="933.8" x2="56.5" y2="933.8"/><line x1="52.1" y1="990.5" x2="56.5" y2="990.5"/><line x1="52.1" y1="1047.5" x2="56.5" y2="1047.5"/><line x1="52.1" y1="1104.5" x2="56.5" y2="1104.5"/><line x1="52.1" y1="1161.3" x2="56.5" y2="1161.3"/><line x1="52.1" y1="1218.2" x2="56.5" y2="1218.2"/></g>
<g font-size="10.8"><text x="47" y="939.5" text-anchor="end">10<tspan font-size="7.6" dy="-4.3">0</tspan></text><text x="47" y="996.2" text-anchor="end">10<tspan font-size="7.6" dy="-4.3">−2</tspan></text><text x="47" y="1053.2" text-anchor="end">10<tspan font-size="7.6" dy="-4.3">−4</tspan></text><text x="47" y="1110.2" text-anchor="end">10<tspan font-size="7.6" dy="-4.3">−6</tspan></text><text x="47" y="1167" text-anchor="end">10<tspan font-size="7.6" dy="-4.3">−8</tspan></text><text x="47" y="1223.9" text-anchor="end">10<tspan font-size="7.6" dy="-4.3">−10</tspan></text></g>
<text x="370.25" y="1302.15" font-size="10.8" text-anchor="middle" letter-spacing="0.33">Number of iterations</text>
<text transform="translate(9,1102.72) rotate(-90)" font-size="10.8" text-anchor="middle" letter-spacing="0.25">Error 3</text>
<text x="370.05" y="927.1" font-size="13.3" text-anchor="middle">n=50</text>
<rect x="62.3" y="1210.7" width="76.8" height="53.9" rx="2.6" ry="2.6" fill="#ffffff" fill-opacity="0.8" stroke="#cccccc" stroke-opacity="0.8" stroke-width="1"/>
<line x1="66.2" y1="1219.3" x2="88.6" y2="1219.3" stroke="#1f77b4" stroke-width="1.75" stroke-linecap="square"/>
<rect x="73.55" y="1215.45" width="7.7" height="7.7" fill="#1f77b4"/>
<text x="98.6" y="1223.6" font-size="10.8">PPA</text>
<line x1="66.2" y1="1236.2" x2="88.6" y2="1236.2" stroke="#ff7f0e" stroke-width="1.75" stroke-linecap="square"/>
<polygon points="77.4,1232.75 78.17,1235.13 80.68,1235.13 78.65,1236.61 79.43,1238.99 77.4,1237.52 75.37,1238.99 76.15,1236.61 74.12,1235.13 76.63,1235.13" fill="#ff7f0e" stroke="#ff7f0e" stroke-width="1" stroke-linejoin="miter"/>
<text x="98.6" y="1240.5" font-size="10.8">EXTRA</text>
<line x1="66.2" y1="1253.1" x2="88.6" y2="1253.1" stroke="#ff0000" stroke-width="1.75" stroke-linecap="square"/>
<circle cx="77.4" cy="1253.1" r="3.9" fill="#ff0000"/>
<text x="99.3" y="1257.4" font-size="10.8" word-spacing="-2.1">2 PPA</text>
<g class="cap" font-family="'Liberation Serif', 'DejaVu Serif', serif" font-size="27" fill="#111">
<text transform="translate(281,1352.1) scale(0.84,1.05)">(</text>
<text transform="translate(291,1352.1) scale(1.14,0.92)">c</text>
<text transform="translate(305.3,1352.1) scale(0.95,1.05)">)</text>
<text transform="translate(323.8,1352.1) scale(1.22,0.9)" font-style="italic" fill="#2a2a2a">n</text>
<text transform="translate(348.4,1354.5) scale(1.36,1.0)">=</text>
<text transform="translate(376.8,1352.1) scale(0.95,1.0)">50</text>
</g>
</g>
</svg>
</body>
</html>
